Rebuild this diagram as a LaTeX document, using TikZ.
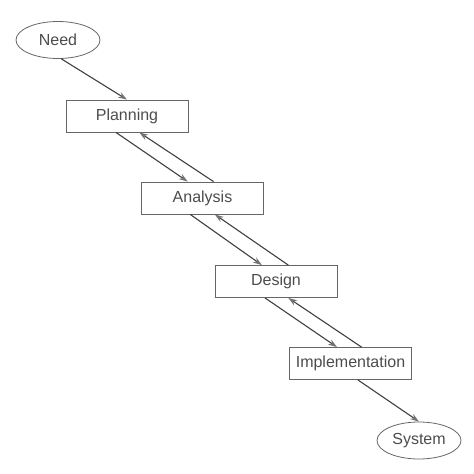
\documentclass[tikz,border=0pt]{standalone}
\usepackage{fontspec}
\setmainfont{Liberation Sans}
\usetikzlibrary{calc,arrows.meta,shapes.geometric}
\begin{document}
\begin{tikzpicture}[x=1pt,y=-1pt,
  stepbox/.style={draw=black!60,line width=0.8pt,minimum width=122pt,minimum height=32pt,inner sep=0pt,font=\fontsize{16}{18}\selectfont,text=black!70},
  endnode/.style={draw=black!60,line width=0.8pt,ellipse,minimum width=84pt,minimum height=37pt,inner sep=0pt,font=\fontsize{16}{18}\selectfont,text=black!70},
  flow/.style={draw=black!75,line width=1.1pt,-{Stealth[length=9pt,width=6pt,inset=3pt,color=black!55,fill=black!40]}}]
\useasboundingbox (0,0) rectangle (474,474);
\node[endnode] (need) at (58,40) {Need};
\node[stepbox] (plan) at (127,116) {Planning};
\node[stepbox] (anal) at (202.5,198) {Analysis};
\node[stepbox] (des) at (276,281.5) {Design};
\node[stepbox] (impl) at (350.5,363.5) {Implementation};
\node[endnode] (sys) at (419,440.5) {System};
% helper points
\coordinate (pF) at ($(plan.south west)!0.41!(plan.south east)$);
\coordinate (pB) at ($(plan.south west)!0.60!(plan.south east)$);
\coordinate (aFt) at ($(anal.north west)!0.38!(anal.north east)$);
\coordinate (aBt) at ($(anal.north west)!0.59!(anal.north east)$);
\coordinate (aF) at ($(anal.south west)!0.40!(anal.south east)$);
\coordinate (aB) at ($(anal.south west)!0.60!(anal.south east)$);
\coordinate (dFt) at ($(des.north west)!0.385!(des.north east)$);
\coordinate (dBt) at ($(des.north west)!0.60!(des.north east)$);
\coordinate (dF) at ($(des.south west)!0.41!(des.south east)$);
\coordinate (dB) at ($(des.south west)!0.60!(des.south east)$);
\coordinate (iFt) at ($(impl.north west)!0.39!(impl.north east)$);
\coordinate (iBt) at ($(impl.north west)!0.59!(impl.north east)$);
\coordinate (iF) at ($(impl.south west)!0.56!(impl.south east)$);
\coordinate (nS) at (need.-80);
\draw[flow] (nS) -- (plan.north);
\draw[flow] (pF) -- (aFt);
\draw[flow] (aBt) -- (pB);
\draw[flow] (aF) -- (dFt);
\draw[flow] (dBt) -- (aB);
\draw[flow] (dF) -- (iFt);
\draw[flow] (iBt) -- (dB);
\draw[flow] (iF) -- (sys.north);
\end{tikzpicture}
\end{document}
